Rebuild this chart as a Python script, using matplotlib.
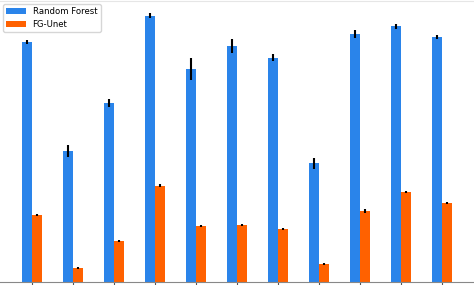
import numpy as np
import matplotlib.pyplot as plt

labels = ['Random Forest', 'FG-Unet']
rf = [0.854, 0.466, 0.637, 0.947, 0.759, 0.840, 0.798, 0.423, 0.883, 0.910, 0.872]
rf_err = [0.007, 0.020, 0.014, 0.009, 0.039, 0.024, 0.012, 0.020, 0.014, 0.009, 0.008]
fg = [0.238, 0.051, 0.147, 0.343, 0.199, 0.202, 0.189, 0.065, 0.252, 0.320, 0.280]
fg_err = [0.004, 0.003, 0.003, 0.004, 0.004, 0.003, 0.003, 0.003, 0.007, 0.005, 0.003]

x = np.arange(len(rf))
w = 0.25

fig = plt.figure(figsize=(4.74, 2.85), dpi=100)
ax = fig.add_axes([0, 3/285, 1, 281/285])

ax.bar(x - w/2, rf, w, yerr=rf_err, color='#2a84ea', label=labels[0],
       error_kw=dict(ecolor='black', elinewidth=1.5, capsize=0))
ax.bar(x + w/2, fg, w, yerr=fg_err, color='#ff6100', label=labels[1],
       error_kw=dict(ecolor='black', elinewidth=1.5, capsize=0))

ax.set_ylim(0, 1.0)
ax.set_xticks(x)
ax.set_xticklabels([])
ax.set_yticks([])
ax.tick_params(axis='x', length=3, color='#555555')
ax.spines['left'].set_visible(False)
ax.spines['right'].set_visible(False)
ax.spines['top'].set_color('#e6e6e6')
ax.spines['bottom'].set_color('#888888')

ax.legend(loc='upper left', fontsize=6.1, borderaxespad=0.35, handlelength=2.3,
          labelspacing=0.4)

fig.savefig('out.png', dpi=100)
